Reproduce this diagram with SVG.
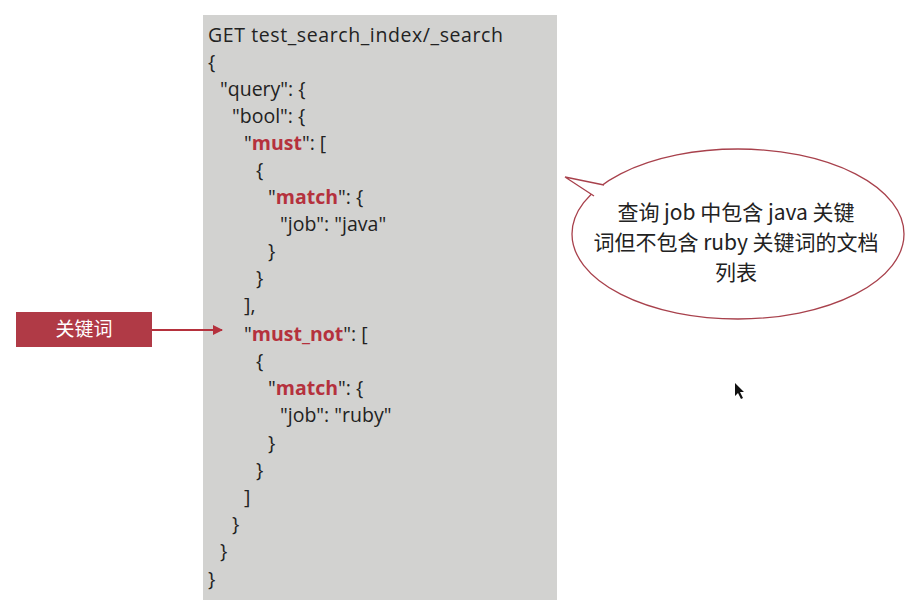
<svg xmlns="http://www.w3.org/2000/svg" width="910" height="611" viewBox="0 0 910 611">
<style>
.c{font-family:"Open Sans","Liberation Sans","Noto Sans CJK SC",sans-serif;font-size:19.5px;fill:#222}
.k{fill:#b5313d;font-weight:bold}
.z{font-family:"Noto Sans CJK SC",sans-serif;font-size:21px;fill:#222;text-anchor:middle}
</style>
<defs><marker id="ah" markerWidth="10" markerHeight="10" refX="9" refY="5" orient="auto" markerUnits="userSpaceOnUse"><path d="M0,0 L10,5 L0,10 z" fill="#b5313d"/></marker></defs>
<rect width="910" height="611" fill="#fff"/>
<g id="code">
<rect x="203" y="15" width="354" height="585" fill="#d2d2d0"/>
<text class="c" x="208" y="42" textLength="295">GET test_search_index/_search</text>
<text class="c" x="208" y="69">{</text>
<text class="c" x="220" y="96">"query": {</text>
<text class="c" x="232" y="123">"bool": {</text>
<text class="c" x="244" y="150">"<tspan class="k">must</tspan>": [</text>
<text class="c" x="256" y="177">{</text>
<text class="c" x="268" y="204">"<tspan class="k">match</tspan>": {</text>
<text class="c" x="280" y="231">"job": "java"</text>
<text class="c" x="268" y="258">}</text>
<text class="c" x="256" y="285">}</text>
<text class="c" x="244" y="312">],</text>
<text class="c" x="244" y="341">"<tspan class="k">must_not</tspan>": [</text>
<text class="c" x="256" y="368">{</text>
<text class="c" x="268" y="395">"<tspan class="k">match</tspan>": {</text>
<text class="c" x="280" y="422">"job": "ruby"</text>
<text class="c" x="268" y="450">}</text>
<text class="c" x="256" y="477">}</text>
<text class="c" x="244" y="504">]</text>
<text class="c" x="232" y="531">}</text>
<text class="c" x="220" y="558">}</text>
<text class="c" x="208" y="586">}</text>
</g>
<g id="label">
<rect x="16" y="312" width="136" height="35" fill="#b03a46"/>
<text class="z" x="84" y="336" style="fill:#fff;font-size:19px">关键词</text>
</g>
<g id="callout">
<ellipse cx="738" cy="234" rx="166" ry="85" fill="#fff" stroke="#a8414c" stroke-width="1.3"/>
<path d="M604,185 L565,177 L594,196" fill="#fff" stroke="#a8414c" stroke-width="1.3"/>
<path d="M603,187 L596,195 L610,195 Z" fill="#fff"/>
<text class="z" x="736" y="220">查询 job 中包含 java 关键</text>
<text class="z" x="736" y="250">词但不包含 ruby 关键词的文档</text>
<text class="z" x="736" y="280">列表</text>
</g>
<g id="connectors">
<line x1="152" y1="330" x2="222" y2="330" stroke="#b5313d" stroke-width="2" marker-end="url(#ah)"/>
</g>
<path d="M735,383 L735,396 L738,393 L741,399 L743,398 L740,392 L744,392 Z" fill="#111"/>
</svg>
